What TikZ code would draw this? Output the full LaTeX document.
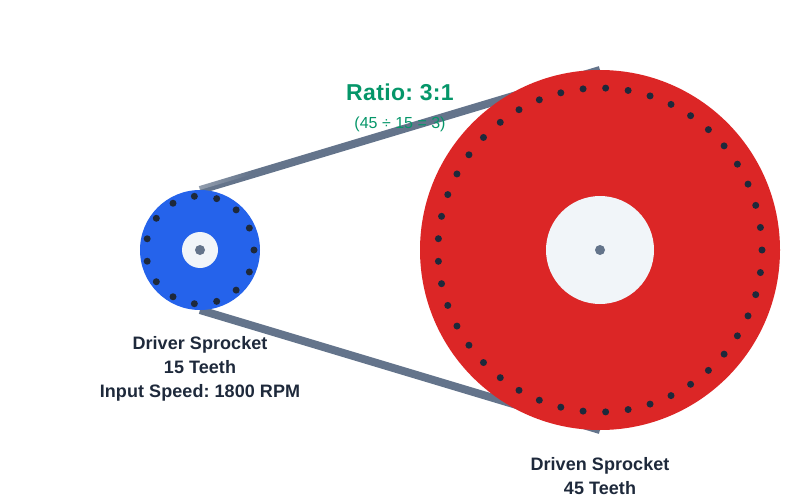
\documentclass[tikz,border=0pt]{standalone}
\usepackage{fontspec}
\setmainfont{Liberation Sans}
\usepackage{xcolor}
\usetikzlibrary{calc,fadings}
\definecolor{beltgray}{HTML}{64748B}
\definecolor{hubwhite}{HTML}{F1F5F9}
\definecolor{toothdark}{HTML}{1E293B}
\definecolor{driverblue}{HTML}{2563EB}
\definecolor{drivenred}{HTML}{DC2626}
\definecolor{ratiogreen}{HTML}{059669}
\frenchspacing
\tikzfading[name=beltfade,left color=transparent!70,middle color=transparent!0,right color=transparent!100]
\tikzset{
  wheel/.style={circle,inner sep=0pt,minimum size=#1},
  tooth/.style={circle,inner sep=0pt,minimum size=7pt,fill=toothdark},
  belt/.style={draw=beltgray,line width=8pt},
  caption/.style={font=\bfseries\fontsize{18}{24}\selectfont\addfontfeature{LetterSpace=0.4},text=toothdark,align=center}
}

\begin{document}
\begin{tikzpicture}[x=1pt,y=-1pt]
\useasboundingbox (0,0) rectangle (800,500);

\coordinate (A1) at (200,190);
\coordinate (B1) at (600,70);
\coordinate (A2) at (200,310);
\coordinate (B2) at (600,430);
\draw[belt] (A1) -- (B1);
\draw[belt] (A2) -- (B2);
% fade at the start of the upper belt
\fill[white,path fading=beltfade] (198,184.5) -- (250,169) -- (251.5,174.5) -- (199.5,190) -- cycle;

\node[text=ratiogreen,font=\fontsize{16}{18}\selectfont] (calc) at (400,124) {(45 ÷ 15 = 3)};
\node[text=ratiogreen,font=\bfseries\fontsize{23}{26}\selectfont\addfontfeature{LetterSpace=1.5}] (ratio) at (400,92) {Ratio: 3:1};

\begin{scope}
  \node[wheel=120pt,fill=driverblue] (driver) at (200,250) {};
  \node[wheel=36pt,fill=hubwhite] (driverhub) at (driver) {};
  \node[wheel=10pt,fill=beltgray] (driveraxle) at (driver) {};
  \node[wheel=360pt,fill=drivenred] (driven) at (600,250) {};
  \node[wheel=108pt,fill=hubwhite] (drivenhub) at (driven) {};
  \node[wheel=10pt,fill=beltgray] (drivenaxle) at (driven) {};
\end{scope}

\foreach \i in {0,...,14}
  \node[tooth] (a\i) at ($(driver)+({24*\i}:54)$) {};
\foreach \i in {0,...,44}
  \node[tooth] (b\i) at ($(driven)+({8*\i}:162)$) {};

\node[caption] (driverlabel) at (200,369) {Driver Sprocket\\15 Teeth\\Input Speed: 1800 RPM};
\node[caption] (drivenlabel) at (600,476) {Driven Sprocket\\45 Teeth};
\end{tikzpicture}
\end{document}
